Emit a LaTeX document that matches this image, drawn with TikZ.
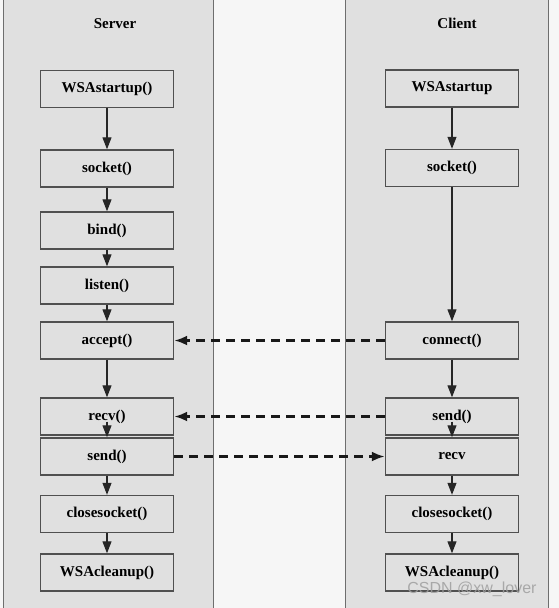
\documentclass[tikz,border=0pt]{standalone}
\usepackage{fontspec}
\setmainfont{Liberation Serif}
\newfontfamily\marksans{Liberation Sans}
\usetikzlibrary{arrows.meta}

\definecolor{panelgray}{RGB}{224,224,224}
\definecolor{pageback}{RGB}{246,246,246}
\definecolor{edgegray}{RGB}{110,110,110}
\definecolor{boxedge}{RGB}{80,80,80}

\tikzset{
  callbox/.style={draw=boxedge, line width=1.4pt, fill=panelgray, minimum width=133pt,
                  minimum height=37pt, inner sep=0pt, font=\fontsize{15}{17}\selectfont\bfseries},
  flow/.style={-{Triangle[length=12pt,width=9pt]}, line width=1.1pt, black!85},
  msg/.style={-{Latex[length=13pt,width=10pt]}, line width=3pt, dash pattern=on 9pt off 6pt, black!90},
  sidetitle/.style={font=\fontsize{15}{17}\selectfont\bfseries}
}

\begin{document}
\begin{tikzpicture}[x=1pt, y=-1pt]
  % page size (pixels of the reference)
  \def\W{559}
  \def\H{608}
  \def\sx{107}   % server column
  \def\cx{452}   % client column

  \useasboundingbox (0,0) rectangle (\W,\H);
  \fill[pageback] (0,0) rectangle (\W,\H);

  % 1. Two lanes
  \fill[panelgray] (3,0) rectangle (213,\H);
  \draw[edgegray, line width=1pt] (3,0) -- (3,\H) (213,0) -- (213,\H);
  \fill[panelgray] (345,0) rectangle (548,\H);
  \draw[edgegray, line width=1pt] (345,0) -- (345,\H) (548,0) -- (548,\H);

  \node[sidetitle] (srvtitle) at (115,24) {Server};
  \node[sidetitle] (clititle) at (457,23) {Client};

  % 2. Server calls
  \node[callbox] (sStartup) at (\sx,89)    {WSAstartup()};
  \node[callbox] (sSocket)  at (\sx,168.5) {socket()};
  \node[callbox] (sBind)    at (\sx,230.5) {bind()};
  \node[callbox] (sListen)  at (\sx,285.5) {listen()};
  \node[callbox] (sAccept)  at (\sx,340.5) {accept()};
  \node[callbox] (sRecv)    at (\sx,416.5) {recv()};
  \node[callbox] (sSend)    at (\sx,456.5) {send()};
  \node[callbox] (sClose)   at (\sx,514)   {closesocket()};
  \node[callbox] (sCleanup) at (\sx,572.5) {WSAcleanup()};

  % 3. Client calls
  \node[callbox] (cStartup) at (\cx,88.5)  {WSAstartup};
  \node[callbox] (cSocket)  at (\cx,168)   {socket()};
  \node[callbox] (cConnect) at (\cx,340.5) {connect()};
  \node[callbox] (cSend)    at (\cx,416.5) {send()};
  \node[callbox] (cRecv)    at (\cx,456.5) {recv};
  \node[callbox] (cClose)   at (\cx,514)   {closesocket()};
  \node[callbox] (cCleanup) at (\cx,572.5) {WSAcleanup()};

  % 4. Flow inside each lane
  \draw[flow] (sStartup) -- (sSocket);
  \draw[flow] (sSocket) -- (sBind);
  \draw[flow] (sBind) -- (sListen);
  \draw[flow] (sListen) -- (sAccept);
  \draw[flow] (sAccept) -- (sRecv);
  \draw[flow] ([yshift=14pt]sRecv.south) -- (sSend.north);
  \draw[flow] (sSend) -- (sClose);
  \draw[flow] (sClose) -- (sCleanup);

  \draw[flow] (cStartup) -- (cSocket);
  \draw[flow] (cSocket) -- (cConnect);
  \draw[flow] (cConnect) -- (cSend);
  \draw[flow] ([yshift=14pt]cSend.south) -- (cRecv.north);
  \draw[flow] (cRecv) -- (cClose);
  \draw[flow] (cClose) -- (cCleanup);

  % 5. Messages between the two sides
  \draw[msg] (cConnect.west) -- (sAccept.east);
  \draw[msg] (cSend.west) -- (sRecv.east);
  \draw[msg] (sSend.east) -- (cRecv.west);

  % watermark
  \node[font=\marksans\fontsize{16}{18}\selectfont, text=gray!75, text opacity=0.85] (wmark) at (472,589) {CSDN @xw\_lover};
\end{tikzpicture}
\end{document}
